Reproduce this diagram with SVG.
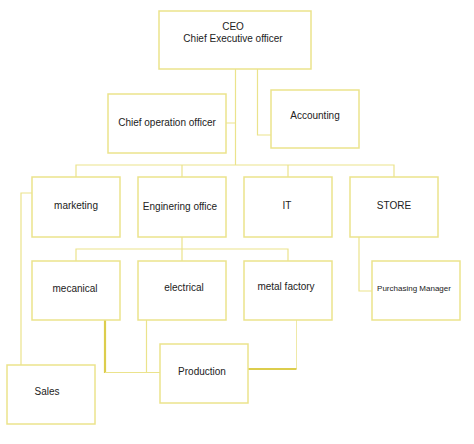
<svg xmlns="http://www.w3.org/2000/svg" width="474" height="444" viewBox="0 0 474 444">
<style>
.box{fill:#fff;stroke:#ebe38c;stroke-width:1.5}
.ln{fill:none;stroke:#ebe38c;stroke-width:1.2}
.lt{fill:none;stroke:#efe9a8;stroke-width:1}
.thick{fill:none;stroke:#dccd4c;stroke-width:2.2}
text{font-family:"Liberation Sans",Arial,sans-serif;font-size:10px;fill:#222;text-anchor:middle}
.s{font-size:8px}
</style>
<rect width="474" height="444" fill="#fff"/>
<g id="connectors">
<path class="ln" d="M235.5 69V165M257.5 69V135H271M226 123H235.5"/>
<path class="ln" d="M76 177V165H394V177M182 165V177M288 165V177"/>
<path class="ln" d="M182 237V249M76 261V249H288V261M182 249V261"/>
<path class="ln" d="M359 237V291H372"/>
<path class="ln" d="M32 193H21V365"/>
<path class="thick" d="M105 320V373"/>
<path class="ln" d="M105 372.5H160M146.5 320V372.5"/>
<path class="lt" d="M296.5 320V369"/>
<path class="thick" d="M248 369H296.5"/>
</g>
<g id="ceo"><rect class="box" x="159" y="11" width="152" height="58"/><text x="233" y="30">CEO</text><text x="233" y="42">Chief Executive officer</text></g>
<g id="coo"><rect class="box" x="108" y="94" width="118" height="59"/><text x="167" y="126">Chief operation officer</text></g>
<g id="accounting"><rect class="box" x="271" y="90" width="88" height="58"/><text x="315" y="119">Accounting</text></g>
<g id="marketing"><rect class="box" x="32" y="177" width="88" height="60"/><text x="76" y="209">marketing</text></g>
<g id="engineering"><rect class="box" x="138" y="177" width="88" height="60"/><text x="180" y="210">Enginering office</text></g>
<g id="it"><rect class="box" x="244" y="177" width="88" height="60"/><text x="287" y="209">IT</text></g>
<g id="store"><rect class="box" x="350" y="177" width="88" height="60"/><text x="394" y="209">STORE</text></g>
<g id="mecanical"><rect class="box" x="32" y="261" width="88" height="59"/><text x="75" y="292">mecanical</text></g>
<g id="electrical"><rect class="box" x="138" y="261" width="88" height="59"/><text x="184" y="291">electrical</text></g>
<g id="metal"><rect class="box" x="244" y="261" width="88" height="59"/><text x="286" y="290">metal factory</text></g>
<g id="purchasing"><rect class="box" x="372" y="261" width="88" height="59"/><text class="s" x="414" y="291">Purchasing Manager</text></g>
<g id="sales"><rect class="box" x="7" y="365" width="88" height="59"/><text x="47" y="395">Sales</text></g>
<g id="production"><rect class="box" x="160" y="344" width="88" height="59"/><text x="202" y="375">Production</text></g>
</svg>
